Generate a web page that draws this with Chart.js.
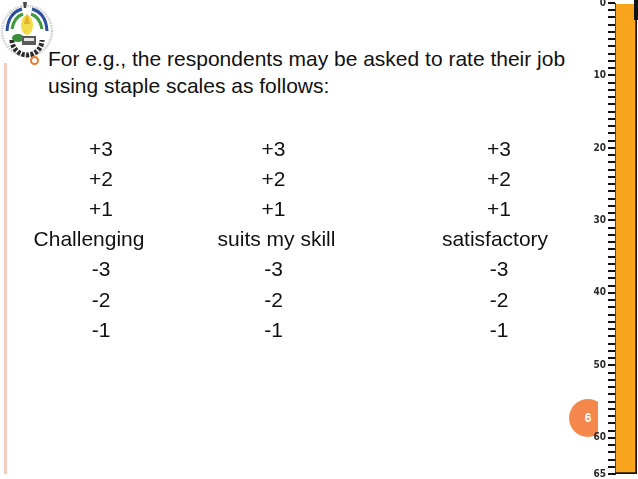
<!DOCTYPE html>
<html>
<head>
<meta charset="utf-8">
<script src="https://cdn.jsdelivr.net/npm/chart.js@4"></script>
<style>
  html, body { margin: 0; padding: 0; background: #fff; }
  #slide { position: relative; width: 638px; height: 479px; overflow: hidden; font-family: "Liberation Sans", Arial, sans-serif; }
  #table { position: absolute; left: 0; top: 0; }
  #ruler { position: absolute; left: 560px; top: 0; }
  #heading { position: absolute; left: 48px; top: 45px; font-size: 21px; line-height: 27px; color: #111; }
  #bullet { position: absolute; left: 30px; top: 56px; width: 5px; height: 5px; border: 2px solid #e8782a; border-radius: 50%; }
  #sideline { position: absolute; left: 4px; top: 63px; width: 3px; height: 411px; background: #f3cdbd; }
  #pageclip { position: absolute; left: 569px; top: 399px; width: 29px; height: 38px; overflow: hidden; }
  #pagedot { width: 38px; height: 38px; border-radius: 50%; background: #f4874b; color: #fff; font-size: 12px; font-weight: bold; line-height: 38px; text-align: center; }
  #rulercap { position: absolute; left: 634px; top: 0; width: 4px; height: 20px; background: #111; }
  #logo { position: absolute; left: 0; top: 0; }
</style>
</head>
<body>
<div id="slide">
  <svg id="logo" width="60" height="62" viewBox="0 0 60 62">
    <circle cx="27" cy="31" r="25" fill="#fff" stroke="#cfcfcf" stroke-width="2.5" stroke-dasharray="1.5 1"/>
    <path d="M7 31 Q8 13 22 9" fill="none" stroke="#2a4f9e" stroke-width="3"/>
    <path d="M32 9 Q46 13 47 31" fill="none" stroke="#2a4f9e" stroke-width="3"/>
    <path d="M12 29 Q14 17 23 14" fill="none" stroke="#3d9a3d" stroke-width="3"/>
    <path d="M31 14 Q40 17 42 29" fill="none" stroke="#3d9a3d" stroke-width="3"/>
    <ellipse cx="27" cy="25" rx="6" ry="10" fill="#f2dc4a"/>
    <path d="M27 13 L30 24 L24 24 Z" fill="#e3b12e"/>
    <path d="M23 2 L27 2 L26 8 L24 8 Z" fill="#444"/>
    <path d="M12 40 A15 15 0 0 0 42 40" fill="none" stroke="#2b2b2b" stroke-width="5" stroke-dasharray="3 1.5"/>
    <ellipse cx="18" cy="38" rx="6" ry="4" fill="#3b8c3b"/>
    <rect x="22" y="36" width="14" height="9" fill="#5a5a5a"/>
    <rect x="24" y="38" width="10" height="3" fill="#e6e6e6"/>
  </svg>
  <div id="sideline"></div>
  <div id="bullet"></div>
  <div id="heading">For e.g., the respondents may be asked to rate their job<br>using staple scales as follows:</div>
  <canvas id="table" width="638" height="479"></canvas>
  <div id="pageclip"><div id="pagedot">6</div></div>
  <canvas id="ruler" width="78" height="479"></canvas>
  <div id="rulercap"></div>
</div>
<script>
// items rated on the staple scale
const items = ["Challenging", "suits my skill", "satisfactory"];
// scale points listed above and below the item name (in slide order)
const pointsAbove = [3, 2, 1];
const pointsBelow = [-3, -2, -1];
// ruler in the right margin
const rulerMax = 65;
const rulerLabelEvery = 10;

// small per-column nudges so the text lines up like the slide (style only)
const numberShift = [10, -17, 9];
const itemShift = [-2, -14, 5];

function sign(v) {
  return (v > 0 ? "+" : "") + v;
}

const ITEM_ROW = "item";
const rows = pointsAbove.map(sign).concat([ITEM_ROW]).concat(pointsBelow.map(sign));

let datasets = items.map((item) => {
  let data = [];
  pointsAbove.concat(pointsBelow).forEach((v) => {
    data.push({ x: item, y: sign(v), text: sign(v) });
  });
  data.push({ x: item, y: ITEM_ROW, text: item });
  return {
    label: item,
    data: data,
    showLine: false,
    pointRadius: 0,
    pointHoverRadius: 0,
  };
});

// writes each data point as text at its scale position
const textPoints = {
  id: "textPoints",
  afterDatasetsDraw(chart) {
    const ctx = chart.ctx;
    ctx.save();
    ctx.font = '21px "Liberation Sans", Arial, sans-serif';
    ctx.fillStyle = "#111";
    ctx.textAlign = "center";
    ctx.textBaseline = "middle";
    chart.data.datasets.forEach((ds, i) => {
      const meta = chart.getDatasetMeta(i);
      meta.data.forEach((pt, j) => {
        const d = ds.data[j];
        const dx = d.y === ITEM_ROW ? itemShift[i] : numberShift[i];
        ctx.fillText(d.text, pt.x + dx, pt.y + 1);
      });
    });
    ctx.restore();
  },
};

new Chart(document.getElementById("table"), {
  type: "line",
  data: { labels: items, datasets: datasets },
  options: {
    responsive: false,
    animation: false,
    events: [],
    layout: { padding: { left: 91, right: 148, top: 149, bottom: 149 } },
    plugins: { legend: { display: false }, tooltip: { enabled: false } },
    scales: {
      x: { type: "category", labels: items, offset: false, display: false },
      y: { type: "category", labels: rows, offset: false, display: false },
    },
  },
  plugins: [textPoints],
});

new Chart(document.getElementById("ruler"), {
  type: "bar",
  data: {
    labels: ["ruler"],
    datasets: [
      {
        data: [rulerMax],
        backgroundColor: "#f8a41c",
        borderColor: "#161616",
        borderWidth: { left: 1, right: 2, top: 0, bottom: 2 },
        borderSkipped: false,
        barPercentage: 1,
        categoryPercentage: 1,
      },
    ],
  },
  options: {
    responsive: false,
    animation: false,
    events: [],
    layout: { padding: { left: 0, right: 1, top: 3, bottom: 5 } },
    plugins: { legend: { display: false }, tooltip: { enabled: false } },
    scales: {
      x: { display: false },
      y: {
        position: "left",
        reverse: true,
        min: 0,
        max: rulerMax,
        afterFit(scale) {
          scale.width = 55;
          scale.paddingTop = 0;
          scale.paddingBottom = 0;
        },
        grid: { drawOnChartArea: false, drawTicks: true, tickLength: 7, color: "#111", lineWidth: 2 },
        border: { display: true, color: "#222", width: 1 },
        ticks: {
          stepSize: 1,
          autoSkip: false,
          padding: 2,
          color: "#2a2a2a",
          font: { family: '"Liberation Sans Narrow", "DejaVu Sans Condensed", sans-serif', size: 10, weight: "bold" },
          callback: (v) => (v % rulerLabelEvery === 0 || v === rulerMax ? v : ""),
        },
      },
    },
  },
});
</script>
</body>
</html>
